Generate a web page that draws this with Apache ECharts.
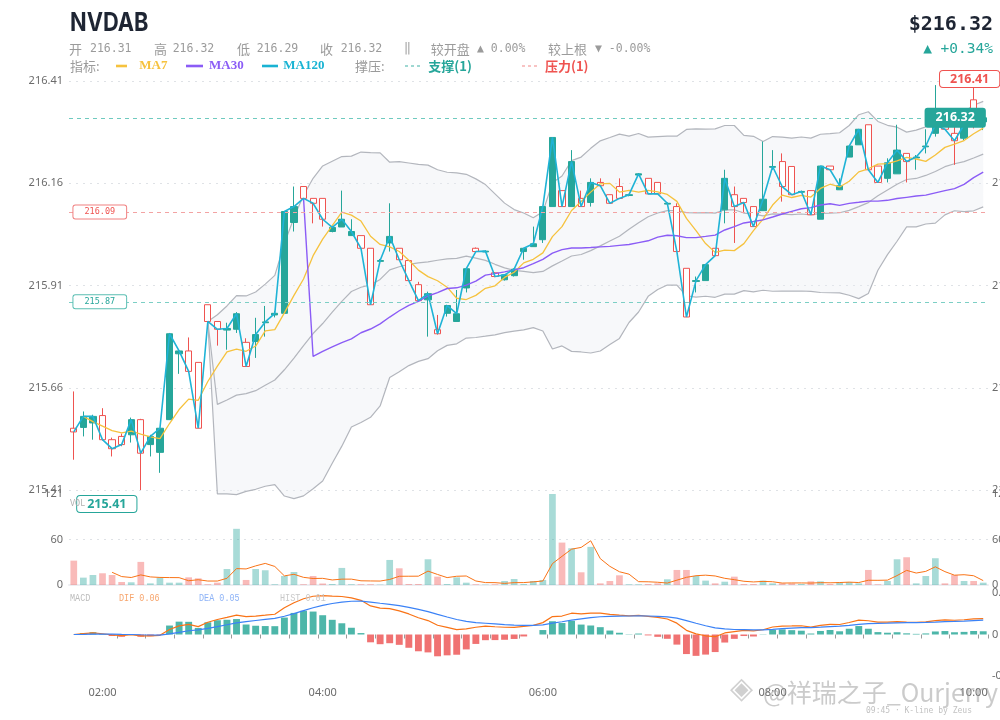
<!DOCTYPE html>
<html><head><meta charset="utf-8">
<script src="https://cdn.jsdelivr.net/npm/echarts@6/dist/echarts.min.js"></script>
<style>html,body{margin:0;padding:0;background:#fff}#c{width:1000px;height:720px}</style>
</head><body><div id="c"></div>
<script>
// ---------- data ----------
const opens = [215.561,215.563,215.574,215.592,215.533,215.541,215.545,215.582,215.521,215.502,
215.582,215.743,215.750,215.722,215.863,215.822,215.801,215.803,215.771,215.773,
215.819,215.838,215.842,216.064,216.152,216.123,216.123,216.042,216.053,216.032,
216.032,216.001,215.969,216.014,216.001,215.971,215.912,215.875,215.802,215.842,
215.822,215.904,216.001,215.992,215.941,215.924,215.934,215.993,216.005,216.022,
216.103,216.142,216.103,216.123,216.113,216.162,216.132,216.152,216.130,216.180,
216.172,216.162,216.109,216.103,215.952,215.920,215.922,216.001,216.095,216.132,
216.123,216.103,216.093,216.199,216.213,216.201,216.138,216.142,216.072,216.202,
216.144,216.224,216.254,216.303,216.202,216.172,216.183,216.233,216.222,216.249,
216.282,216.311,216.282,216.270,216.364,216.310];
const highs = [215.651,215.602,215.594,215.610,215.538,215.548,215.587,215.584,215.545,215.561,
215.794,215.753,215.783,215.722,215.863,215.822,215.819,215.845,215.781,215.831,
215.860,215.848,216.091,216.152,216.152,216.123,216.123,216.055,216.142,216.072,
216.032,216.001,215.975,216.111,216.001,215.971,215.919,215.895,215.838,215.863,
215.899,215.951,216.003,215.996,215.943,215.938,215.952,216.001,216.054,216.103,
216.272,216.142,216.241,216.142,216.172,216.172,216.132,216.172,216.134,216.185,
216.172,216.162,216.113,216.111,215.952,215.932,215.961,216.001,216.193,216.152,
216.123,216.103,216.262,216.241,216.233,216.201,216.142,216.142,216.202,216.202,
216.172,216.251,216.292,216.303,216.202,216.221,216.303,216.233,216.229,216.292,
216.400,216.311,216.298,216.310,216.410,216.320];
const lows = [215.484,215.541,215.533,215.531,215.492,215.517,215.526,215.410,215.492,215.452,
215.582,215.694,215.700,215.561,215.822,215.763,215.753,215.794,215.712,215.733,
215.785,215.832,215.842,216.042,216.123,216.062,216.054,216.040,216.053,216.032,
216.001,215.863,215.965,215.993,215.973,215.922,215.873,215.785,215.790,215.834,
215.822,215.893,215.993,215.990,215.930,215.922,215.932,215.973,216.005,216.014,
216.103,216.103,216.103,216.103,216.103,216.154,216.111,216.123,216.128,216.178,
216.134,216.134,216.107,215.993,215.833,215.893,215.922,215.983,216.062,216.014,
216.087,216.054,216.093,216.193,216.115,216.132,216.136,216.083,216.072,216.193,
216.144,216.224,216.254,216.193,216.162,216.162,216.183,216.162,216.193,216.233,
216.274,216.292,216.205,216.265,216.294,216.290];
const closes = [215.552,215.590,215.590,215.533,215.511,215.521,215.582,215.500,215.541,215.561,
215.792,215.750,215.700,215.561,215.822,215.803,215.805,215.841,215.712,215.790,
215.821,215.842,216.091,216.103,216.123,216.111,216.072,216.052,216.072,216.042,
216.001,215.863,215.971,216.030,215.973,215.922,215.873,215.890,215.792,215.861,
215.841,215.951,215.993,215.994,215.932,215.936,215.950,216.001,216.012,216.103,
216.272,216.103,216.213,216.103,216.162,216.154,216.111,216.123,216.132,216.183,
216.134,216.134,216.111,215.993,215.833,215.922,215.961,215.983,216.172,216.103,
216.113,216.054,216.121,216.201,216.152,216.132,216.140,216.083,216.202,216.193,
216.154,216.251,216.292,216.193,216.162,216.210,216.241,216.213,216.224,216.251,
216.303,216.292,216.264,216.303,216.331,216.320];
const volumes = [32.4,9.8,13.3,15.6,13.3,4,3.6,30.7,2.2,9.8,
3.1,3.1,10.2,8.9,1,3.1,21.3,74.7,6.7,21.3,
19.6,1,12,17.3,1,12,2,1.3,22.7,1,
1,1,0.5,33.3,22.2,1.3,1.3,34.2,11.1,1.3,
10.2,3.1,0.9,0.5,0.9,5.3,8,1.3,5.3,6.7,
121,56.4,48.9,16.9,50.7,2.2,5.3,12.9,0.9,0.9,
1.3,2.2,7.6,20,20,12,5.8,2.2,4.4,11.1,
1.3,1.3,5.8,2.2,2.2,2.2,1.3,4.9,4.9,1.3,
4,4,2.2,20,0.9,5.3,34.2,36.9,2.2,12,
35.6,2.2,13.3,5.3,5.3,3.1];
const priceTickLabels = ['215.41','215.66','215.91','216.16','216.41'];
const timeLabels = ['02:00','04:00','06:00','08:00','10:00'];
const timeLabelIndex = [3, 26, 49, 73, 94];
const supportLevel = 215.87, resistanceLevel = 216.09, lastPrice = 216.32;
const priceMin = 215.41, priceMax = 216.41;

// ---------- colours ----------
const UP = '#26a69a', DOWN = '#ef5350';

// ---------- derived indicator series (as the source chart computes them) ----------
const N = closes.length;
const cats = closes.map((_, i) => String(i));
function rollMean(arr, n, start) {
  return arr.map((v, i) => {
    if (i < start) return null;
    if (i === start) return arr[i];
    let s = 0, c = 0;
    for (let k = Math.max(0, i - n + 1); k <= i; k++) { s += arr[k]; c++; }
    return s / c;
  });
}
function boll(arr, n, start) {
  const up = [], mid = [], lo = [];
  arr.forEach((v, i) => {
    if (i < start) { up.push(null); mid.push(null); lo.push(null); return; }
    if (i === start) { up.push(v); mid.push(v); lo.push(v); return; }
    const w = arr.slice(Math.max(0, i - n + 1), i + 1);
    const m = w.reduce((a, b) => a + b, 0) / w.length;
    const sd = Math.sqrt(w.reduce((a, b) => a + (b - m) * (b - m), 0) / w.length);
    up.push(m + 2 * sd); mid.push(m); lo.push(m - 2 * sd);
  });
  return { up, mid, lo };
}
function ema(arr, n) {
  const k = 2 / (n + 1), out = [];
  arr.forEach((v, i) => out.push(i === 0 ? v : v * k + out[i - 1] * (1 - k)));
  return out;
}
const ma7 = rollMean(closes, 7, 1);
const ma30 = rollMean(closes, 30, 24);
const bb = boll(closes, 20, 14);
const bandWidth = bb.up.map((u, i) => u == null ? null : u - bb.lo[i]);
const volMa5 = volumes.map((v, i) => i < 4 ? null : volumes.slice(i - 4, i + 1).reduce((a, b) => a + b, 0) / 5);
const e12 = ema(closes, 12), e26 = ema(closes, 26);
const dif = e12.map((v, i) => v - e26[i]);
const dea = []; dif.forEach((v, i) => dea.push(i === 0 ? 0 : v * 0.2 + dea[i - 1] * 0.8));
const hist = dif.map((v, i) => 2 * (v - dea[i]));

let maxIdx = 0, minIdx = 0;
highs.forEach((h, i) => { if (h > highs[maxIdx]) maxIdx = i; });
lows.forEach((l, i) => { if (l < lows[minIdx]) minIdx = i; });

// ---------- header graphics ----------
const GRAY = '#9b9b9b';
const G = [];
function txt(x, y, text, font, fill, extra) {
  G.push(Object.assign({ type: 'text', x: x, y: y, z: 100,
    style: { text: text, font: font, fill: fill, textVerticalAlign: 'middle', textAlign: 'left' } }, extra || {}));
}
function seg(x1, x2, y, stroke, w, dash) {
  G.push({ type: 'line', z: 100, shape: { x1: x1, y1: y, x2: x2, y2: y },
    style: { stroke: stroke, lineWidth: w, lineDash: dash || null } });
}
const CJK = '13px "Noto Sans CJK SC"';
const MONO = '11.5px "DejaVu Sans Mono"';
txt(70, 23, 'NVDAB', 'bold 26px Inter', '#1e2533', { scaleX: 0.84 });
G.push({ type: 'text', x: 993, y: 25, z: 100, style: { text: '$216.32', font: 'bold 20px "DejaVu Sans Mono"', fill: '#1e2533', textAlign: 'right', textVerticalAlign: 'middle' } });
G.push({ type: 'text', x: 993, y: 49, z: 100, style: { text: '▲ +0.34%', font: '14.5px "DejaVu Sans Mono"', fill: UP, textAlign: 'right', textVerticalAlign: 'middle' } });
// OHLC line
txt(69, 49, '开', CJK, GRAY); txt(90, 49, '216.31', MONO, GRAY);
txt(154, 49, '高', CJK, GRAY); txt(172.7, 49, '216.32', MONO, GRAY);
txt(237, 49, '低', CJK, GRAY); txt(256.7, 49, '216.29', MONO, GRAY);
txt(320, 49, '收', CJK, GRAY); txt(340.7, 49, '216.32', MONO, GRAY);
txt(404, 49, '‖', MONO, GRAY);
txt(430.7, 49, '较开盘', CJK, GRAY); txt(477, 49, '▲ 0.00%', MONO, GRAY);
txt(548, 49, '较上根', CJK, GRAY); txt(595, 49, '▼ -0.00%', MONO, GRAY);
// indicator legend line
txt(70, 66, '指标:', CJK, GRAY);
seg(116, 127, 66, '#f6c23e', 2.6); txt(139.3, 66, 'MA7', 'bold 13px "Liberation Serif"', '#f6c23e');
seg(186, 203, 66, '#8b5cf6', 2.6); txt(209, 66, 'MA30', 'bold 13px "Liberation Serif"', '#8b5cf6');
seg(262, 278, 66, '#19b3d3', 2.6); txt(283.3, 66, 'MA120', 'bold 13px "Liberation Serif"', '#19b3d3');
txt(355, 66, '撑压:', CJK, GRAY);
seg(405, 420, 66, '#80cbc4', 1.3, [3, 3]); txt(428.3, 66, '支撑(1)', 'bold 13px "Noto Sans CJK SC"', UP);
seg(522, 537, 66, '#f4a4a4', 1.3, [3, 3]); txt(545, 66, '压力(1)', 'bold 13px "Noto Sans CJK SC"', DOWN);
// sub-panel legends
txt(70, 503, 'VOL', '11px "Liberation Mono"', '#b0b0b0', { scaleX: 0.77 });
txt(70, 598, 'MACD', '11px "Liberation Mono"', '#bdbdbd', { scaleX: 0.77 });
txt(119, 598, 'DIF 0.06', '11px "Liberation Mono"', '#f7a56d', { scaleX: 0.77 });
txt(199, 598, 'DEA 0.05', '11px "Liberation Mono"', '#8fb4f7', { scaleX: 0.77 });
txt(280, 598, 'HIST 0.01', '11px "Liberation Mono"', '#c8c8c8', { scaleX: 0.77 });
// footer & watermark
txt(866, 711, '09:45 · K-line by Zeus', '8px "DejaVu Sans Mono"', '#c2c2c2');
txt(730, 690, '◈', '30px "DejaVu Sans"', 'rgba(150,150,150,0.45)');
txt(763, 692, '@祥瑞之子_Ourjerry', '25px "Noto Sans CJK SC"', 'rgba(140,140,140,0.45)');

// ---------- chart ----------
const chart = echarts.init(document.getElementById('c'), null, { renderer: 'canvas' });
const axisFont = { fontFamily: 'Noto Sans', fontSize: 11, color: '#6b6b6b' };
const L = 69, R = 12;
function boxLabel(text, color, bg, offset, size) {
  return { show: true, position: 'inside', formatter: text, offset: offset,
    color: bg ? '#fff' : color, backgroundColor: bg ? color : '#fff',
    borderColor: color, borderWidth: 1, borderRadius: 3,
    fontFamily: 'Noto Sans', fontWeight: 'bold', fontSize: size || 12.5,
    padding: [2, 10, 1, 10] };
}
const gridBase = { left: L, right: R, containLabel: false, outerBoundsMode: 'none' };
const option = {
  animation: false,
  backgroundColor: '#fff',
  graphic: G,
  grid: [
    Object.assign({ top: 81, height: 409 }, gridBase),
    Object.assign({ top: 494, height: 91 }, gridBase),
    Object.assign({ top: 593, height: 83 }, gridBase)
  ],
  xAxis: [
    { type: 'category', gridIndex: 0, data: cats, axisLine: { show: false }, axisTick: { show: false }, axisLabel: { show: false } },
    { type: 'category', gridIndex: 1, data: cats, position: 'top', axisLine: { show: true, lineStyle: { color: '#eceef2', width: 2 } }, axisTick: { show: false }, axisLabel: { show: false } },
    { type: 'category', gridIndex: 2, data: cats, offset: 4, axisLine: { show: false },
      axisTick: { show: true, length: 4, lineStyle: { color: '#9a9a9a' }, interval: (i) => i % 3 === 2 && i >= 5 },
      axisLabel: Object.assign({ margin: 7, interval: (i) => timeLabelIndex.indexOf(i) >= 0,
        formatter: (v, i) => { const k = timeLabelIndex.indexOf(i); return k >= 0 ? timeLabels[k] : ''; } }, axisFont) }
  ],
  yAxis: [
    { type: 'value', gridIndex: 0, min: priceMin, max: priceMax, show: false, splitLine: { show: false } },
    { type: 'value', gridIndex: 0, min: 0, max: priceTickLabels.length - 1, interval: 1, position: 'left',
      axisLine: { show: false }, axisTick: { show: false },
      axisLabel: Object.assign({ margin: 6, formatter: (v) => priceTickLabels[v] }, axisFont),
      splitLine: { show: true, lineStyle: { color: '#dfe2e6', type: [2, 5] } } },
    { type: 'value', gridIndex: 0, min: 0, max: priceTickLabels.length - 1, interval: 1, position: 'right',
      axisLine: { show: false }, axisTick: { show: false },
      axisLabel: Object.assign({ margin: 4, formatter: (v) => priceTickLabels[v] }, axisFont), splitLine: { show: false } },
    { type: 'value', gridIndex: 1, min: 0, max: 121, interval: 60.5, position: 'left',
      axisLine: { show: false }, axisTick: { show: false },
      axisLabel: Object.assign({ margin: 6, formatter: (v) => String(Math.floor(v)) }, axisFont),
      splitLine: { show: true, showMinLine: false, showMaxLine: false, lineStyle: { color: '#dfe2e6', type: [2, 5] } } },
    { type: 'value', gridIndex: 1, min: 0, max: 121, interval: 60.5, position: 'right',
      axisLine: { show: false }, axisTick: { show: false },
      axisLabel: Object.assign({ margin: 4, formatter: (v) => String(Math.floor(v)) }, axisFont), splitLine: { show: false } },
    { type: 'value', gridIndex: 2, min: -0.14, max: 0.14, interval: 0.14, position: 'right',
      axisLine: { show: false }, axisTick: { show: false },
      axisLabel: Object.assign({ margin: 4, formatter: (v) => Math.abs(v) < 1e-9 ? '0' : v.toFixed(2) }, axisFont), splitLine: { show: false } }
  ],
  series: [
    { name: 'bollLower', type: 'line', xAxisIndex: 0, yAxisIndex: 0, stack: 'boll', data: bb.lo, symbol: 'none', clip: false, z: 1,
      lineStyle: { color: '#b3b6bd', width: 1.2 },
      markLine: { silent: true, symbol: ['none', 'none'], label: { show: false },
        data: [
          { yAxis: resistanceLevel, lineStyle: { color: '#f3a3a3', type: [4, 4], width: 1 } },
          { yAxis: supportLevel, lineStyle: { color: '#7ccfc5', type: [4, 4], width: 1 } },
          { yAxis: lastPrice, lineStyle: { color: '#6fcabf', type: [4, 4], width: 1 } }
        ] } },
    { name: 'bollBand', type: 'line', xAxisIndex: 0, yAxisIndex: 0, stack: 'boll', data: bandWidth, symbol: 'none', clip: false, z: 1,
      lineStyle: { color: '#b3b6bd', width: 1.2 }, areaStyle: { color: 'rgba(232,235,240,0.5)' } },
    { name: 'bollMid', type: 'line', xAxisIndex: 0, yAxisIndex: 0, data: bb.mid, symbol: 'none', clip: false, z: 1,
      lineStyle: { color: '#b3b6bd', width: 1.2 } },
    { name: 'K', type: 'candlestick', xAxisIndex: 0, yAxisIndex: 0, z: 2, barWidth: '70%',
      data: closes.map((c, i) => [opens[i], c, lows[i], highs[i]]),
      itemStyle: { color: UP, color0: '#ffffff', borderColor: UP, borderColor0: DOWN, borderWidth: 1 } },
    { name: 'MA7', type: 'line', xAxisIndex: 0, yAxisIndex: 0, data: ma7, symbol: 'none', z: 3, lineStyle: { color: '#f6c23e', width: 1.3 } },
    { name: 'MA30', type: 'line', xAxisIndex: 0, yAxisIndex: 0, data: ma30, symbol: 'none', z: 3, lineStyle: { color: '#8b5cf6', width: 1.4 } },
    { name: 'MA120', type: 'line', xAxisIndex: 0, yAxisIndex: 0, data: closes, symbol: 'none', z: 4, lineStyle: { color: '#1fb3d6', width: 1.6 },
      markPoint: { silent: true, symbol: 'rect', symbolSize: 1, itemStyle: { color: 'rgba(0,0,0,0)' },
        data: [
          { coord: [maxIdx, highs[maxIdx]], label: boxLabel(highs[maxIdx].toFixed(2), DOWN, false, [-4, -2]) },
          { coord: [minIdx, lows[minIdx]], label: boxLabel(lows[minIdx].toFixed(2), UP, false, [-34, 14]) },
          { coord: [N - 1, lastPrice], label: Object.assign(boxLabel(lastPrice.toFixed(2), UP, true, [-28, 0], 12.5), { borderRadius: 2, padding: [3, 10, 2, 10] }) },
          { coord: [0, resistanceLevel], label: { show: true, position: 'inside', offset: [26, 0], formatter: resistanceLevel.toFixed(2),
              color: DOWN, backgroundColor: '#fff', borderColor: '#f08080', borderWidth: 1, borderRadius: 2,
              fontFamily: 'DejaVu Sans Mono', fontSize: 8.5, padding: [2, 11, 2, 11] } },
          { coord: [0, supportLevel], label: { show: true, position: 'inside', offset: [26, 0], formatter: supportLevel.toFixed(2),
              color: UP, backgroundColor: '#fff', borderColor: '#5bbfb3', borderWidth: 1, borderRadius: 2,
              fontFamily: 'DejaVu Sans Mono', fontSize: 8.5, padding: [2, 11, 2, 11] } }
        ] } },
    { name: 'VOL', type: 'bar', xAxisIndex: 1, yAxisIndex: 3, barWidth: '70%',
      data: volumes.map((v, i) => ({ value: v, itemStyle: { color: closes[i] >= opens[i] ? 'rgba(38,166,154,0.4)' : 'rgba(239,83,80,0.4)' } })) },
    { name: 'VOLMA', type: 'line', xAxisIndex: 1, yAxisIndex: 3, data: volMa5, symbol: 'none', lineStyle: { color: '#f97316', width: 1 } },
    { name: 'HIST', type: 'bar', xAxisIndex: 2, yAxisIndex: 5, barWidth: '72%',
      data: hist.map((v) => ({ value: v, itemStyle: { color: v >= 0 ? '#4db6a9' : '#f07272' } })) },
    { name: 'DIF', type: 'line', xAxisIndex: 2, yAxisIndex: 5, data: dif, symbol: 'none', lineStyle: { color: '#f97316', width: 1.2 } },
    { name: 'DEA', type: 'line', xAxisIndex: 2, yAxisIndex: 5, data: dea, symbol: 'none', lineStyle: { color: '#3b82f6', width: 1.2 } }
  ]
};
chart.setOption(option);
</script>
</body></html>
